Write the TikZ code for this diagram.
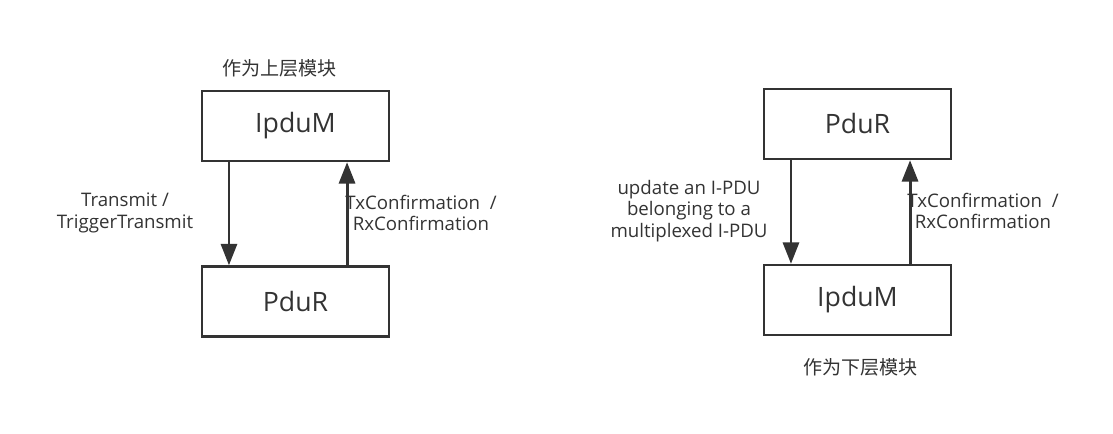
\documentclass[tikz,border=0pt]{standalone}
\usepackage[svgnames, dvipsnames]{xcolor}
\usepackage{fontspec}
\setmainfont{Open Sans}
\newfontfamily\cjk{Noto Sans CJK SC}
\usetikzlibrary{calc, arrows.meta}
\definecolor{ink}{HTML}{333333}
\tikzset{>=latex,
  modbox/.style={draw=ink, line width=1.8pt, minimum width=140pt, minimum height=52.5pt,
    font=\fontsize{20}{24}\selectfont, text=ink},
  flow/.style={draw=ink, line width=2.2pt, -{Triangle[width=12pt,length=16pt]}},
  lbl/.style={align=center, text=ink, font=\fontsize{14}{16.3}\selectfont, inner sep=0pt},
  cn/.style={text=ink, font=\cjk\fontsize{14.3}{16}\selectfont, inner sep=0pt}
}

\begin{document}
\begin{tikzpicture}[x=0.75pt, y=-0.75pt]
\useasboundingbox (0,0) rectangle (1113,434);
% IpduM as upper module
\node[cn] (upperTag) at (279.5,68.5) {作为上层模块};
\node[modbox] (ipduTop) at (295.5,126) {IpduM};
\node[modbox] (pdurBot) at (295.5,301.5) {PduR};
\draw[flow] ([xshift=21pt]ipduTop.south west) -- ([xshift=21pt]pdurBot.north west);
\draw[flow] ([xshift=-32.25pt]pdurBot.north east) -- ([xshift=-32.25pt]ipduTop.south east);
\node[lbl] (txLeft) at (125,213) {Transmit /\\TriggerTransmit};
\node[lbl] (confLeft) at (421,213) {TxConfirmation~~/\\ RxConfirmation};
% IpduM as lower module
\node[modbox] (pdurTop) at (857.5,124) {PduR};
\node[modbox] (ipduBot) at (857.5,300) {IpduM};
\node[cn] (lowerTag) at (860.5,367) {作为下层模块};
\draw[flow] ([xshift=21pt]pdurTop.south west) -- ([xshift=21pt]ipduBot.north west);
\draw[flow] ([xshift=-31.5pt]ipduBot.north east) -- ([xshift=-31.5pt]pdurTop.south east);
\node[lbl] (updRight) at (689,211) {update an I-PDU\\belonging to a\\multiplexed I-PDU};
\node[lbl] (confRight) at (983,211) {TxConfirmation~~/\\ RxConfirmation};
\end{tikzpicture}
\end{document}
